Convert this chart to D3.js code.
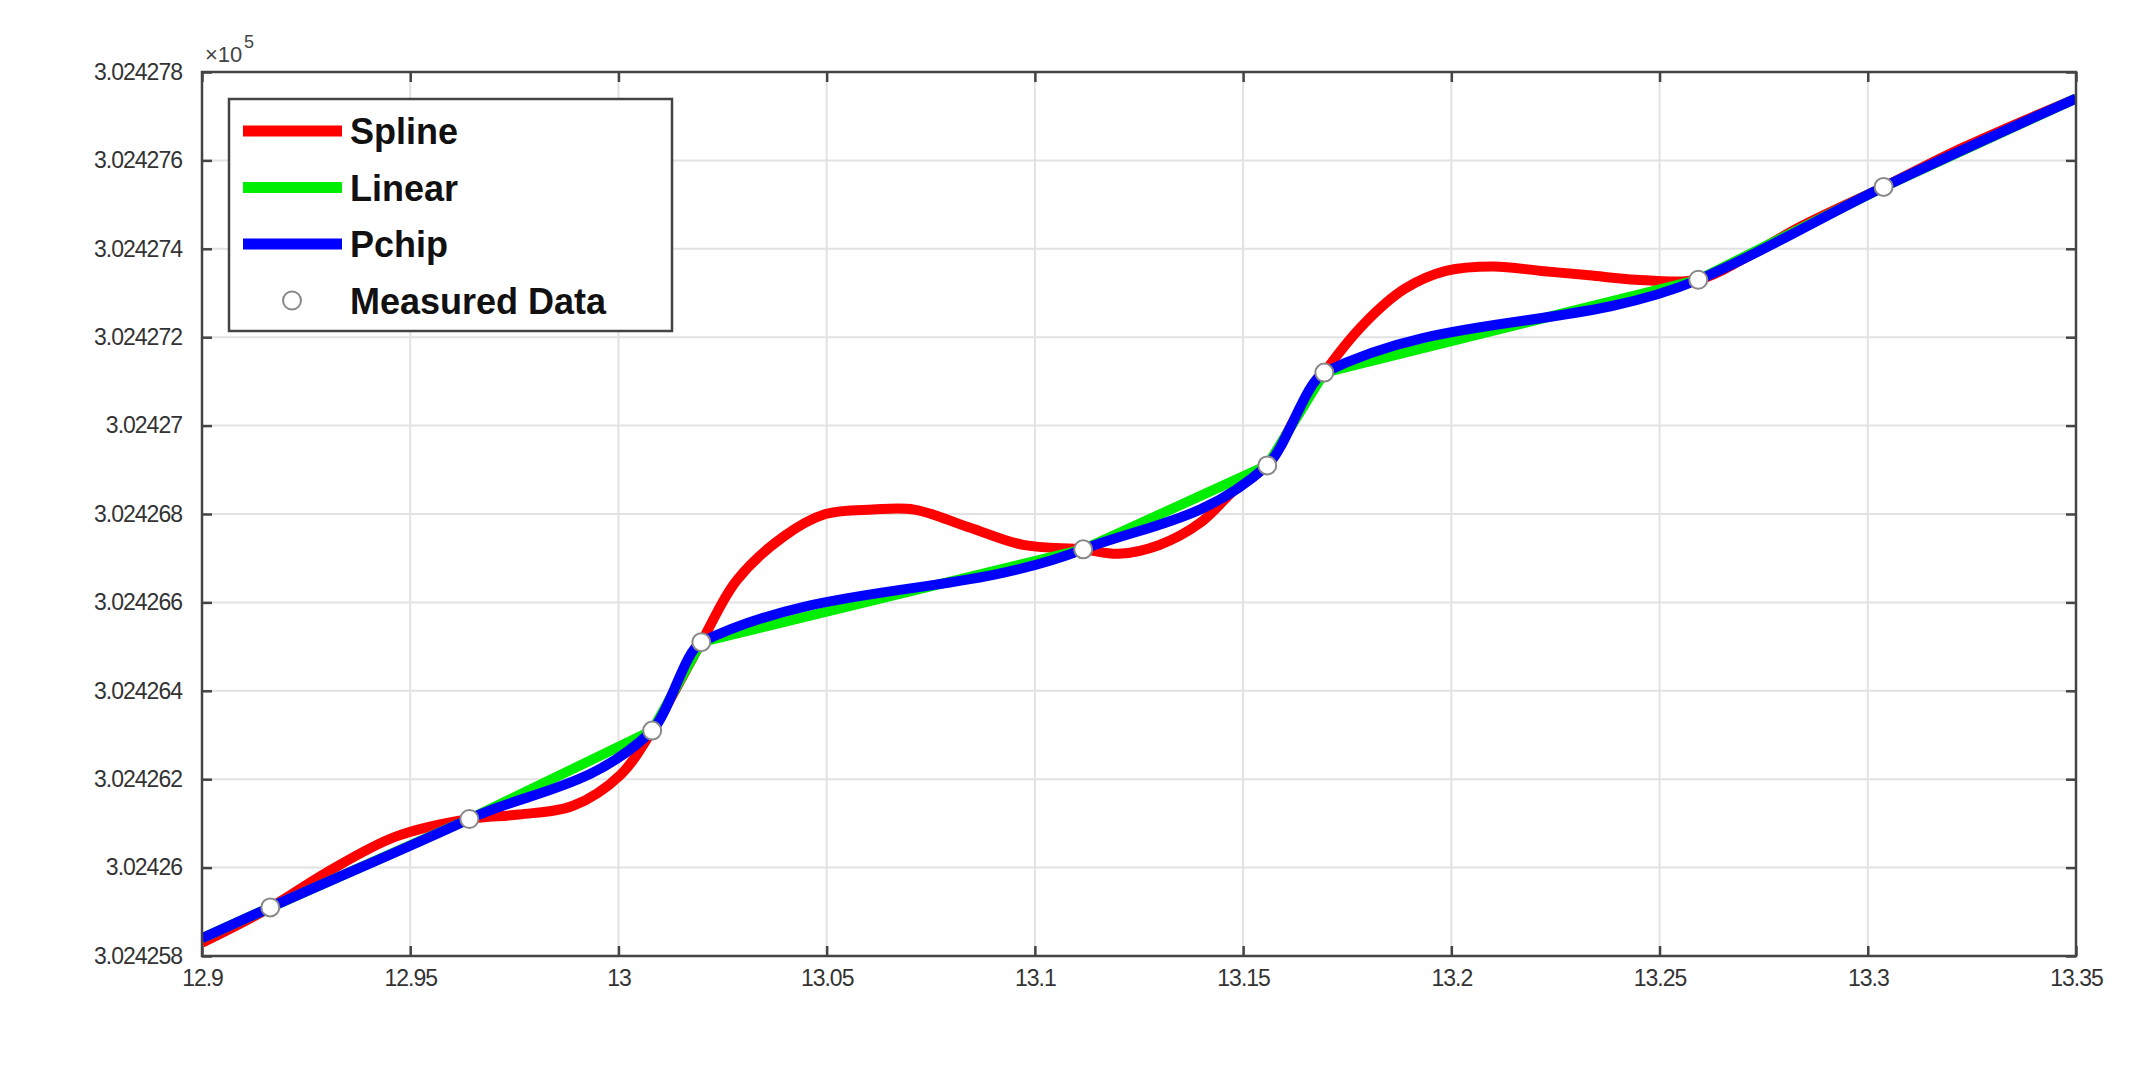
<!DOCTYPE html>
<html><head><meta charset="utf-8">
<script src="https://cdn.jsdelivr.net/npm/d3@7"></script>
<style>body{margin:0;background:#fff}</style></head>
<body><svg id="c" width="2139" height="1067"></svg>
<script>
const xTicks=[12.9,12.95,13,13.05,13.1,13.15,13.2,13.25,13.3,13.35];
const xTickLabels=["12.9","12.95","13","13.05","13.1","13.15","13.2","13.25","13.3","13.35"];
const yTicks=[3.024258,3.02426,3.024262,3.024264,3.024266,3.024268,3.02427,3.024272,3.024274,3.024276,3.024278];
const yTickLabels=["3.024258","3.02426","3.024262","3.024264","3.024266","3.024268","3.02427","3.024272","3.024274","3.024276","3.024278"];
const measuredX=[12.9164,12.9642,13.0081,13.0199,13.1116,13.1558,13.1695,13.2593,13.3038];
const measuredY=[3.0242591,3.0242611,3.0242631,3.0242651,3.0242672,3.0242691,3.0242712,3.0242733,3.0242754];
const endX=[12.9,13.35];
const endY=[3.0242584,3.0242774];
const splineX=[12.900,12.9164,12.9301,12.9465,12.9642,12.9760,12.9891,13.0005,13.0081,13.0199,13.0284,13.0398,13.0497,13.0611,13.0710,13.0841,13.0972,13.1116,13.1201,13.1299,13.1397,13.1496,13.1558,13.1627,13.1695,13.1790,13.1889,13.1987,13.2101,13.2216,13.2331,13.2445,13.2593,13.2707,13.2838,13.3038,13.3231,13.35];
const splineY=[3.0242583,3.0242591,3.0242599,3.0242607,3.0242611,3.0242612,3.0242614,3.0242621,3.0242631,3.0242651,3.0242665,3.0242675,3.0242680,3.0242681,3.0242681,3.0242677,3.0242673,3.0242672,3.0242671,3.0242673,3.0242678,3.0242687,3.0242691,3.0242702,3.0242712,3.0242723,3.0242731,3.0242735,3.0242736,3.0242735,3.0242734,3.0242733,3.0242733,3.0242738,3.0242745,3.0242754,3.0242763,3.0242774];
const legendNames=["Spline","Linear","Pchip","Measured Data"];
const colors=["#ff0000","#00ee00","#0000ff"];

const L=202,R=2076,T=72,B=956;
const svg=d3.select("#c");
const x=d3.scaleLinear().domain([12.9,13.35]).range([L,R]);
const y=d3.scaleLinear().domain([3.024258,3.024278]).range([B,T]);
svg.append("g").selectAll("line").data(xTicks).join("line")
 .attr("x1",d=>x(d)).attr("x2",d=>x(d)).attr("y1",T).attr("y2",B).attr("stroke","#e2e2e2").attr("stroke-width",2);
svg.append("g").selectAll("line").data(yTicks).join("line")
 .attr("y1",d=>y(d)).attr("y2",d=>y(d)).attr("x1",L).attr("x2",R).attr("stroke","#e2e2e2").attr("stroke-width",2);
const ptsM=[[endX[0],endY[0]],...measuredX.map((v,i)=>[v,measuredY[i]]),[endX[1],endY[1]]];
svg.append("clipPath").attr("id","cp").append("rect").attr("x",L).attr("y",T).attr("width",R-L).attr("height",B-T);
const g=svg.append("g").attr("clip-path","url(#cp)");
const ln=(c)=>d3.line().x(d=>x(d[0])).y(d=>y(d[1])).curve(c);
g.append("path").attr("d",ln(d3.curveCatmullRom)(splineX.map((v,i)=>[v,splineY[i]]))).attr("fill","none").attr("stroke",colors[0]).attr("stroke-width",10).attr("stroke-linejoin","round");
g.append("path").attr("d",ln(d3.curveLinear)(ptsM)).attr("fill","none").attr("stroke",colors[1]).attr("stroke-width",10).attr("stroke-linejoin","round");
g.append("path").attr("d",ln(d3.curveMonotoneX)(ptsM)).attr("fill","none").attr("stroke",colors[2]).attr("stroke-width",10).attr("stroke-linejoin","round");
g.selectAll("circle").data(measuredX).join("circle").attr("cx",d=>x(d)).attr("cy",(d,i)=>y(measuredY[i])).attr("r",9)
 .attr("fill","#fff").attr("stroke","#888").attr("stroke-width",2);
svg.append("rect").attr("x",L).attr("y",T).attr("width",R-L).attr("height",B-T).attr("fill","none").attr("stroke","#444").attr("stroke-width",2.5);
const xa=svg.append("g").attr("transform",`translate(0,${B})`).call(d3.axisBottom(x).tickValues(xTicks).tickFormat((d,i)=>xTickLabels[i]).tickSizeInner(-10).tickSizeOuter(0).tickPadding(14));
const xt=svg.append("g").attr("transform",`translate(0,${T})`).call(d3.axisTop(x).tickValues(xTicks).tickFormat("").tickSizeInner(-10).tickSizeOuter(0));
const ya=svg.append("g").attr("transform",`translate(${L},0)`).call(d3.axisLeft(y).tickValues(yTicks).tickFormat((d,i)=>yTickLabels[i]).tickSizeInner(-10).tickSizeOuter(0).tickPadding(20));
const yr=svg.append("g").attr("transform",`translate(${R},0)`).call(d3.axisRight(y).tickValues(yTicks).tickFormat("").tickSizeInner(-10).tickSizeOuter(0));
[xa,xt,ya,yr].forEach(a=>{a.select(".domain").remove();a.selectAll("line").attr("stroke","#444").attr("stroke-width",2.5);
 a.selectAll("text").attr("font-family","Liberation Sans, Arial, sans-serif").attr("font-size",23).attr("fill","#333").attr("letter-spacing","-1");});
svg.append("text").attr("x",205).attr("y",62).attr("font-family","Liberation Sans, Arial").attr("font-size",22).attr("fill","#444").text("×10");
svg.append("text").attr("x",244).attr("y",48).attr("font-family","Liberation Sans, Arial").attr("font-size",18).attr("fill","#444").text("5");
const lg=svg.append("g");
lg.append("rect").attr("x",229).attr("y",99).attr("width",443).attr("height",232).attr("fill","#fff").attr("stroke","#444").attr("stroke-width",2.5);
legendNames.forEach((n,i)=>{const cy=131+i*56.5;
 if(i<3) lg.append("line").attr("x1",243).attr("x2",342).attr("y1",cy).attr("y2",cy).attr("stroke",colors[i]).attr("stroke-width",11);
 else lg.append("circle").attr("cx",292).attr("cy",cy).attr("r",9).attr("fill","#fff").attr("stroke","#888").attr("stroke-width",2);
 lg.append("text").attr("x",350).attr("y",cy+13).attr("font-family","Liberation Sans, Arial").attr("font-weight","bold").attr("font-size",36).attr("fill","#111").text(n);
});
</script></body></html>
